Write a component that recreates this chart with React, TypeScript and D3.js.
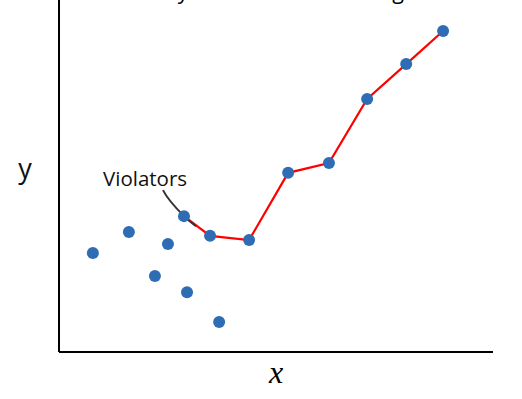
import React from "react";
import * as d3 from "d3";

const W = 522;
const H = 399;

// observations (data units)
const xs = [7.8, 16.1, 22.1, 25.1, 28.8, 29.5, 34.8, 36.9, 43.8, 52.8, 62.2, 71.0, 80.0, 88.5];
const ys = [28.1, 34.1, 21.6, 30.7, 38.6, 17.0, 33.0, 8.5, 31.8, 50.9, 53.7, 71.9, 81.8, 91.2];
// indices of points joined by the red line
const fitIdx = [4, 6, 8, 9, 10, 11, 12, 13];

const titleText = "The y values are increasing";
const xLabel = "x";
const yLabel = "y";
const annotText = "Violators";

export default function App() {
  const m = { left: 59, right: 29, top: 0, bottom: 47 };
  const x = d3.scaleLinear().domain([0, 100]).range([m.left, W - m.right]);
  const y = d3.scaleLinear().domain([0, 100]).range([H - m.bottom, m.top]);

  const fitLine = d3
    .line<number>()
    .x((i) => x(xs[i]))
    .y((i) => y(ys[i]))
    .curve(d3.curveLinear);

  const ax = x(xs[4]);
  const ay = y(ys[4]);
  const leader = `M${ax - 21},${ay - 26} C${ax - 16},${ay - 16} ${ax - 6},${ay - 6} ${ax},${ay} S${ax + 8},${ay + 7} ${ax + 12},${ay + 10}`;

  return (
    <svg
      width={W}
      height={H}
      style={{ position: "absolute", left: 0, top: 0, background: "#fff" }}
    >
      <text
        x={135}
        y={-1}
        fontFamily="'Open Sans', sans-serif"
        fontSize={21.5}
        fill="#000"
      >
        {titleText}
      </text>
      <line x1={x(0)} x2={x(0)} y1={0} y2={y(0)} stroke="#000" strokeWidth={2} />
      <line x1={x(0)} x2={x(100)} y1={y(0)} y2={y(0)} stroke="#000" strokeWidth={2} />
      <path d={fitLine(fitIdx) || ""} fill="none" stroke="#ff0000" strokeWidth={2.2} />
      <path d={leader} fill="none" stroke="#333" strokeWidth={2} />
      {xs.map((v, i) => (
        <circle key={i} cx={x(v)} cy={y(ys[i])} r={6} fill="#2e6db4" />
      ))}
      <text
        x={103}
        y={186}
        fontFamily="'Open Sans', sans-serif"
        fontSize={20.5}
        fill="#111"
      >
        {annotText}
      </text>
      <text
        x={25}
        y={178}
        textAnchor="middle"
        fontFamily="'Open Sans', sans-serif"
        fontSize={27}
        fill="#111"
      >
        {yLabel}
      </text>
      <text
        x={276}
        y={383}
        textAnchor="middle"
        fontFamily="'Liberation Serif', serif"
        fontStyle="italic"
        fontSize={32}
        fill="#000"
      >
        {xLabel}
      </text>
    </svg>
  );
}
